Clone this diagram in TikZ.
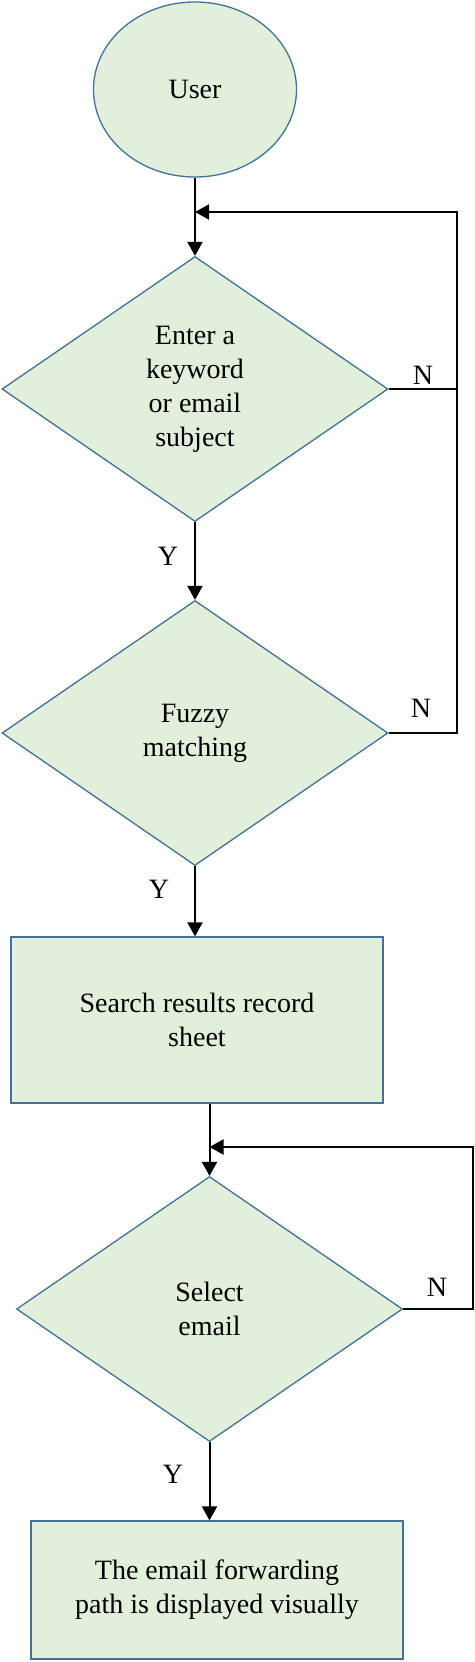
\documentclass[tikz,border=0pt]{standalone}
\usepackage{fontspec}
\setmainfont{Liberation Serif}
\usetikzlibrary{shapes.geometric,arrows.meta}
\definecolor{boxfill}{HTML}{E2EFDA}
\definecolor{boxline}{HTML}{41719C}
\begin{document}
\begin{tikzpicture}[x=1pt,y=-1pt,
  every node/.style={font=\fontsize{28}{34}\selectfont, text=black},
  shapebox/.style={draw=boxline, fill=boxfill, line width=1.3pt, inner sep=0pt, align=center},
  decide/.style={shapebox, diamond, minimum width=386pt, minimum height=265pt},
  procbox/.style={shapebox, rectangle, minimum width=372pt},
  conn/.style={line width=2pt, draw=black},
  arr/.style={conn, -{Triangle[length=14pt,width=15pt]}},
  lbl/.style={inner sep=0pt}
]
\useasboundingbox (0,0) rectangle (474,1662);

% nodes
\node[shapebox, ellipse, minimum width=203pt, minimum height=175pt] (user) at (195,89.5) {User};
\node[decide] (d1) at (195,389) {Enter a\\keyword\\or email\\subject};
\node[decide] (d2) at (195,733) {Fuzzy\\matching};
\node[procbox, minimum height=166pt] (r1) at (197,1020) {Search results record\\sheet};
\node[decide] (d3) at (209.5,1309) {Select\\email};
\node[procbox, minimum height=138pt] (r2) at (217,1590) {The email forwarding\\path is displayed visually};

% loop corners
\coordinate (lt1) at (457,212);
\coordinate (lt2) at (473,1147);

% connectors
\draw[arr] (user.south) -- (d1.north);
\draw[arr] (d1.east) -| (lt1) -- (lt1 -| d1.north);
\draw[conn] (d2.east) -| (lt1);
\draw[arr] (d1.south) -- (d2.north);
\draw[arr] (d2.south) -- (d2.south |- r1.north);
\draw[arr] (r1.south -| d3.north) -- (d3.north);
\draw[arr] (d3.east) -| (lt2) -- (lt2 -| d3.north);
\draw[arr] (d3.south) -- (d3.south |- r2.north);

% labels
\node[lbl] (n1) at (423,375) {N};
\node[lbl] (n2) at (421,708) {N};
\node[lbl] (n3) at (437,1287) {N};
\node[lbl] (y1) at (168,556) {Y};
\node[lbl] (y2) at (159,889) {Y};
\node[lbl] (y3) at (173,1474) {Y};
\end{tikzpicture}
\end{document}
